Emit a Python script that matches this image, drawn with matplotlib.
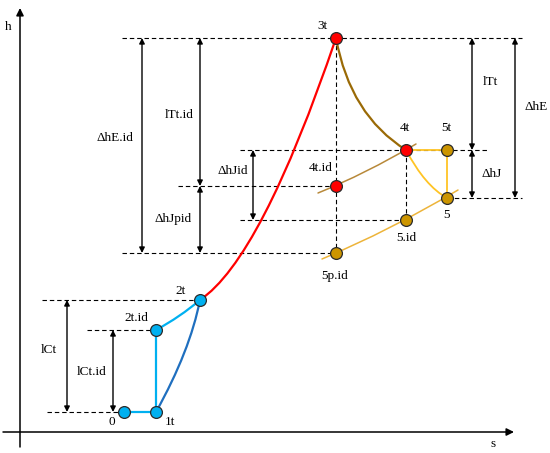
import matplotlib
matplotlib.use("Agg")
import matplotlib.pyplot as plt
from matplotlib.path import Path
from matplotlib.patches import PathPatch

plt.rcParams['font.family'] = ['Liberation Serif', 'DejaVu Serif']

# ==== state points (s, h) in drawing units ====
pt_name = ["0", "1t", "2t.id", "2t", "3t", "4t.id", "4t", "5t", "5", "5.id", "5p.id"]
pt_s = [124, 156, 156, 200, 336, 336, 406, 447, 447, 406, 336]
pt_h = [412, 412, 330, 300, 38, 186, 150, 150, 198, 220, 253]
S = dict(zip(pt_name, pt_s))
H = dict(zip(pt_name, pt_h))

# dimension arrows: label, s position, from point, to point
dim_label = ["\u0394hE.id", "lTt.id", "\u0394hJpid", "\u0394hJid", "lTt", "\u0394hJ", "\u0394hE", "lCt", "lCt.id"]
dim_s = [142, 200, 200, 253, 472, 472, 515, 67, 113]
dim_from = ["3t", "3t", "4t.id", "4t", "3t", "4t", "3t", "2t", "2t.id"]
dim_to = ["5p.id", "4t.id", "5p.id", "5.id", "4t", "5", "5", "0", "0"]

# dashed guide lines: level point, left end, right end
guide_pt = ["3t", "4t", "4t.id", "5.id", "5p.id", "5", "2t", "2t.id", "0"]
guide_s0 = [122, 240, 178, 240, 122, 447, 42, 87, 47]
guide_s1 = [522, 488, 336, 406, 336, 522, 200, 156, 124]

blue = "#00B0F0"
dblue = "#1F6FBF"
red = "#FF0000"
brown = "#9A6A06"
tan = "#B8893A"
yellow = "#FFC425"
gold = "#CC9500"
orange_line = "#EDB43A"

fig = plt.figure(figsize=(5.5, 4.53), dpi=100)
ax = fig.add_axes([0, 0, 1, 1])
ax.set_xlim(0, 550)
ax.set_ylim(453, 0)
ax.axis("off")

# axes arrows
arr = dict(arrowstyle="-|>", lw=1.1, color="black", mutation_scale=11, shrinkA=0, shrinkB=0)
ax.annotate("", xy=(20, 8), xytext=(20, 447), arrowprops=arr)
ax.annotate("", xy=(514, 432), xytext=(3, 432), arrowprops=arr)
ax.text(8, 27, "h", fontsize=9.5, ha="center", va="center")
ax.text(493, 444, "s", fontsize=9.5, ha="center", va="center")

# dashed guides
dash = dict(color="black", lw=0.8, linestyle=(0, (4, 2.6)), zorder=1)
for p, a, b in zip(guide_pt, guide_s0, guide_s1):
    ax.plot([a, b], [H[p], H[p]], **dash)
ax.plot([S["3t"], S["3t"]], [H["3t"], H["5p.id"]], **dash)
ax.plot([S["4t"], S["4t"]], [H["4t"], H["5.id"]], **dash)


def curve(p0, c, p1, color, lw):
    path = Path([p0, c, p1], [Path.MOVETO, Path.CURVE3, Path.CURVE3])
    ax.add_patch(PathPatch(path, fill=False, edgecolor=color, lw=lw, zorder=2, capstyle="round"))


def P(n):
    return (S[n], H[n])


# process lines
ax.plot([S["0"], S["1t"]], [H["0"], H["1t"]], color=blue, lw=1.6, zorder=2)
ax.plot([S["1t"], S["2t.id"]], [H["1t"], H["2t.id"]], color=blue, lw=1.6, zorder=2)
curve(P("2t.id"), (180, 317), P("2t"), blue, 1.6)
curve(P("1t"), (190, 351), P("2t"), dblue, 1.6)
curve(P("2t"), (261, 259), P("3t"), red, 1.6)
curve(P("3t"), (350, 115), P("4t"), brown, 1.6)
curve((318, 193), (365, 174), (416, 144), tan, 1.1)
curve((322, 259), (390, 230.5), (458, 190), orange_line, 1.1)
curve(P("4t"), (425, 186), P("5"), yellow, 1.3)
ax.plot([S["4t"], S["5t"], S["5"]], [H["4t"], H["5t"], H["5"]], color=yellow, lw=1.3, zorder=2)

# markers
mcol = {"0": blue, "1t": blue, "2t.id": blue, "2t": blue, "3t": red, "4t.id": red, "4t": red,
        "5t": gold, "5": gold, "5.id": gold, "5p.id": gold}
for n in pt_name:
    ax.plot(S[n], H[n], "o", ms=8.5, mfc=mcol[n], mec="#2a2a2a", mew=0.9, zorder=4)

# point labels
lab_off = {"0": (-12, 10), "1t": (14, 10), "2t.id": (-20, -12), "2t": (-19, -9), "3t": (-14, -12),
           "4t.id": (-15, -18), "4t": (-1, -22), "5t": (-1, -22), "5": (0, 17), "5.id": (0, 18),
           "5p.id": (-1, 23)}
for n in pt_name:
    dx, dy = lab_off[n]
    ax.text(S[n] + dx, H[n] + dy, n, fontsize=9.5, ha="center", va="center")

# dimension arrows
darr = dict(arrowstyle="<|-|>", lw=1.0, color="black", mutation_scale=8, shrinkA=0, shrinkB=0)
lab_pos = {"\u0394hE.id": (115, 138), "lTt.id": (179, 115), "\u0394hJpid": (173, 219),
           "\u0394hJid": (233, 171), "lTt": (490, 82), "\u0394hJ": (492, 174), "\u0394hE": (548, 107),
           "lCt": (49, 350), "lCt.id": (92, 372)}
for lab, s, a, b in zip(dim_label, dim_s, dim_from, dim_to):
    ax.annotate("", xy=(s, H[a]), xytext=(s, H[b]), arrowprops=darr)
    x, y = lab_pos[lab]
    ax.text(x, y, lab, fontsize=9.5, ha="right" if lab == "\u0394hE" else "center", va="center")

fig.savefig("out.png", dpi=100)
